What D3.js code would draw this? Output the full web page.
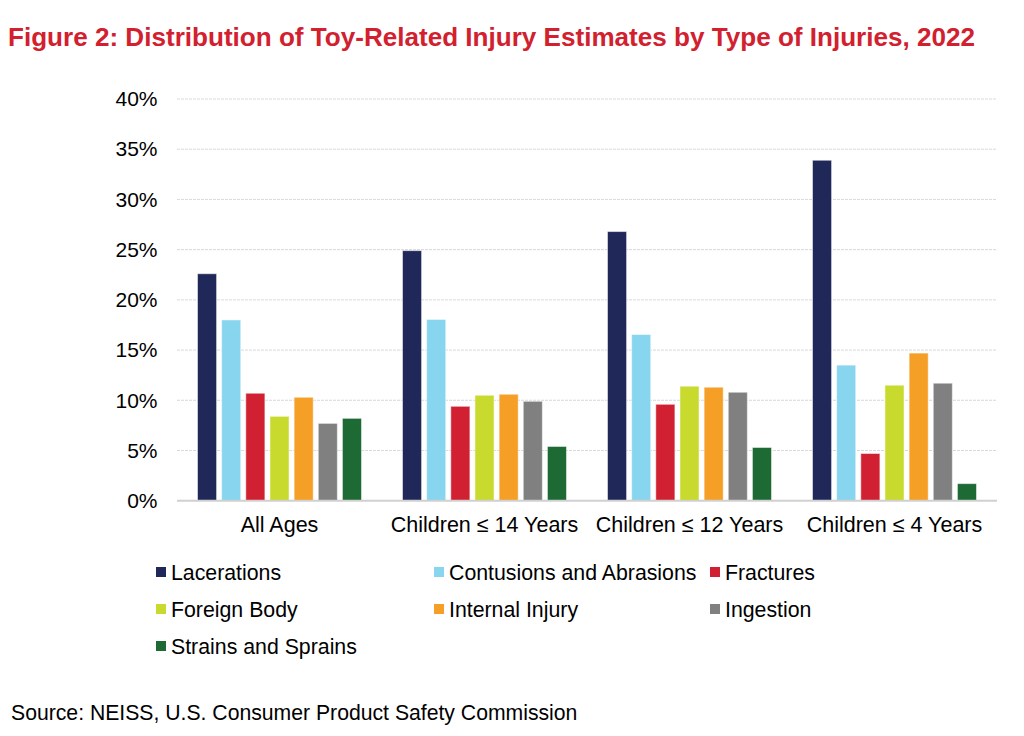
<!DOCTYPE html>
<html>
<head>
  <meta charset="UTF-8">
  <title>Toy-Related Injury Estimates</title>
  <script src="https://cdn.jsdelivr.net/npm/d3@7"></script>
  <style>
    body { margin: 0; background: #fff; }
    text { font-family: "Liberation Sans", Arial, sans-serif; fill: #000; }
  </style>
</head>
<body>
  <svg id="chart" width="1024" height="736"></svg>

  <script>
    // age groups along the x axis
    const groups = ['All Ages', 'Children \u2264 14 Years', 'Children \u2264 12 Years', 'Children \u2264 4 Years'];

    // injury types, one series each
    const injuryTypes = ['Lacerations', 'Contusions and Abrasions', 'Fractures', 'Foreign Body',
                         'Internal Injury', 'Ingestion', 'Strains and Sprains'];
    const injuryColors = ['#1f2858', '#87d5ef', '#d12031', '#c8da2e', '#f59f27', '#808080', '#1d6a35'];

    // percent per injury type, in group order
    const lacerations = [22.6, 24.9, 26.8, 33.9];
    const contusions  = [18.0, 18.05, 16.55, 13.5];
    const fractures   = [10.7, 9.4, 9.6, 4.7];
    const foreignBody = [8.4, 10.5, 11.4, 11.5];
    const internal    = [10.3, 10.6, 11.3, 14.7];
    const ingestion   = [7.7, 9.9, 10.8, 11.7];
    const strains     = [8.2, 5.4, 5.3, 1.7];
    const seriesValues = [lacerations, contusions, fractures, foreignBody, internal, ingestion, strains];

    const yTicks = [0, 5, 10, 15, 20, 25, 30, 35, 40];

    const svg = d3.select('#chart');

    const x0 = d3.scaleBand().domain(groups).range([177, 997]).padding(0);
    const x1 = d3.scaleBand().domain(injuryTypes).range([20.5, x0.bandwidth() - 20.5]).paddingInner(0.21).paddingOuter(0);
    const y = d3.scaleLinear().domain([0, 40]).range([500.7, 99]);

    // title
    svg.append('text')
      .attr('x', 8).attr('y', 46)
      .attr('textLength', 967).attr('lengthAdjust', 'spacingAndGlyphs')
      .style('font-weight', 'bold')
      .style('font-size', '26px')
      .style('fill', '#d2202f')
      .text('Figure 2: Distribution of Toy-Related Injury Estimates by Type of Injuries, 2022');

    // gridlines
    svg.append('g').selectAll('line').data(yTicks.filter(t => t > 0)).enter()
      .append('line')
        .attr('x1', 177).attr('x2', 997)
        .attr('y1', d => y(d)).attr('y2', d => y(d))
        .attr('stroke', '#d9d9d9').attr('stroke-width', 1)
        .attr('stroke-dasharray', '3,1');

    // y axis labels
    const yAxis = d3.axisLeft(y).tickValues(yTicks).tickFormat(d => d + '%').tickSize(0).tickPadding(0);
    const yg = svg.append('g').attr('transform', 'translate(157.5,0)').call(yAxis);
    yg.select('.domain').remove();
    yg.selectAll('text')
      .style('font-family', '"Liberation Sans", Arial, sans-serif')
      .style('font-size', '21px')
      .attr('fill', '#000');

    // bars
    const groupG = svg.append('g').selectAll('g').data(groups).enter()
      .append('g')
        .attr('transform', d => `translate(${x0(d)},0)`);

    groupG.selectAll('rect')
      .data((g, gi) => injuryTypes.map((t, ti) => ({ type: t, color: injuryColors[ti], value: seriesValues[ti][gi] })))
      .enter()
      .append('rect')
        .attr('x', d => x1(d.type))
        .attr('width', x1.bandwidth())
        .attr('y', d => y(d.value))
        .attr('height', d => y(0) - y(d.value))
        .attr('fill', d => d.color)
        .attr('stroke', 'rgba(255,255,255,0.5)')
        .attr('stroke-width', 1);

    // baseline
    svg.append('line')
      .attr('x1', 177).attr('x2', 997)
      .attr('y1', y(0)).attr('y2', y(0))
      .attr('stroke', '#d0d0d0').attr('stroke-width', 2);

    // x axis labels
    const xAxis = d3.axisBottom(x0).tickSize(0).tickPadding(0);
    const xg = svg.append('g').attr('transform', 'translate(0,517)').call(xAxis);
    xg.select('.domain').remove();
    xg.selectAll('text')
      .style('font-family', '"Liberation Sans", Arial, sans-serif')
      .style('font-size', '21.5px')
      .attr('fill', '#000');

    // legend
    const legendCols = [156, 434, 710];
    const legendRows = [572, 609, 646];
    const legend = svg.append('g').selectAll('g').data(injuryTypes).enter()
      .append('g')
        .attr('transform', (d, i) => `translate(${legendCols[i % 3]},${legendRows[Math.floor(i / 3)]})`);
    legend.append('rect')
      .attr('x', 0).attr('y', -5).attr('width', 10).attr('height', 10)
      .attr('fill', (d, i) => injuryColors[i]);
    legend.append('text')
      .attr('x', 15).attr('y', 7.5)
      .style('font-size', '21.3px')
      .text(d => d);

    // source
    svg.append('text')
      .attr('x', 11).attr('y', 720)
      .style('font-size', '21.2px')
      .text('Source: NEISS, U.S. Consumer Product Safety Commission');
  </script>
</body>
</html>
